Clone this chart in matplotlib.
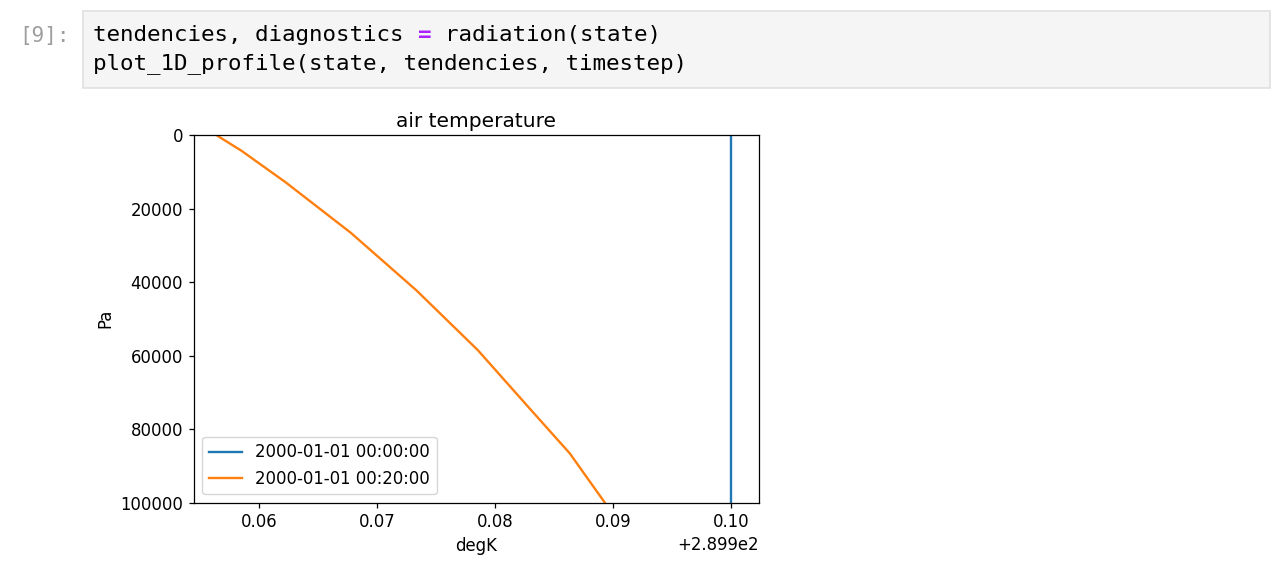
import numpy as np
import matplotlib
matplotlib.use("Agg")
import matplotlib.pyplot as plt
from matplotlib.patches import Rectangle

# pressure levels (Pa) and air temperature minus 289.9 K offset
pressure = [300, 4300, 12900, 26600, 42200, 58500, 74900, 86600, 100000]
temp_t0 = [0.1, 0.1, 0.1, 0.1, 0.1, 0.1, 0.1, 0.1, 0.1]
temp_t1 = [0.0565, 0.0585, 0.06225, 0.06776, 0.0733, 0.07852, 0.08306, 0.08632, 0.08929]
labels = ["2000-01-01 00:00:00", "2000-01-01 00:20:00"]
base = 289.9
xticks = [0.06, 0.07, 0.08, 0.09, 0.10]

code_lines = ["tendencies, diagnostics = radiation(state)",
              "plot_1D_profile(state, tendencies, timestep)"]
prompt = "[9]:"

s = 1.13   # line / tick scale vs default matplotlib
fs = 11.9  # text size in the screenshot
plt.rcParams.update({
    "font.family": "DejaVu Sans",
    "font.size": fs,
    "lines.linewidth": 1.5 * s,
    "axes.linewidth": 0.8 * s,
    "xtick.major.size": 3.5 * s,
    "ytick.major.size": 3.5 * s,
    "xtick.major.width": 0.8 * s,
    "ytick.major.width": 0.8 * s,
    "xtick.major.pad": 3.5 * s,
    "ytick.major.pad": 3.5 * s,
})

W, H = 1280, 569
fig = plt.figure(figsize=(W / 100, H / 100), dpi=100)

# notebook code cell
fig.patches.append(Rectangle((83 / W, 1 - 88 / H), (1270 - 83) / W, 77 / H,
                             transform=fig.transFigure, facecolor="#f5f5f5",
                             edgecolor="#e0e0e0", linewidth=1.2))
fig.text(70 / W, 1 - 36 / H, prompt, family="DejaVu Sans Mono", fontsize=15,
         color="#9e9e9e", ha="right", va="center")
code_fs = 16.2
cw = 0.602 * code_fs * 100 / 72  # monospace char width in px
for i, line in enumerate(code_lines):
    y = 1 - (35 + 29 * i) / H
    if "=" in line:
        col = line.index("=")
        left, right = line[:col].rstrip(), line[col + 1:].lstrip()
        fig.text(93 / W, y, left, family="DejaVu Sans Mono",
                 fontsize=code_fs, color="#000000", va="center")
        fig.text((93 + col * cw) / W, y, "=", family="DejaVu Sans Mono",
                 fontsize=code_fs, color="#aa22ff", weight="bold", va="center")
        fig.text((93 + (col + 2) * cw) / W, y, right, family="DejaVu Sans Mono",
                 fontsize=code_fs, color="#000000", va="center")
    else:
        fig.text(93 / W, y, line, family="DejaVu Sans Mono",
                 fontsize=code_fs, color="#000000", va="center")

# chart
ax = fig.add_axes([194 / W, 1 - 502.5 / H, (759 - 194) / W, (502.5 - 135) / H])
ax.plot(base + np.array(temp_t0), pressure, label=labels[0], color="#1f77b4")
ax.plot(base + np.array(temp_t1), pressure, label=labels[1], color="#ff7f0e")
ax.set_ylim(100000, 0)
ax.set_xlim(base + 0.05447, base + 0.10237)
ax.set_xticks(base + np.array(xticks))
ax.ticklabel_format(axis="x", useOffset=base)
ax.set_title("air temperature", fontsize=14.5)
ax.set_xlabel("degK")
ax.set_ylabel("Pa")
ax.legend(loc="lower left")

fig.savefig("out.png", dpi=100)
